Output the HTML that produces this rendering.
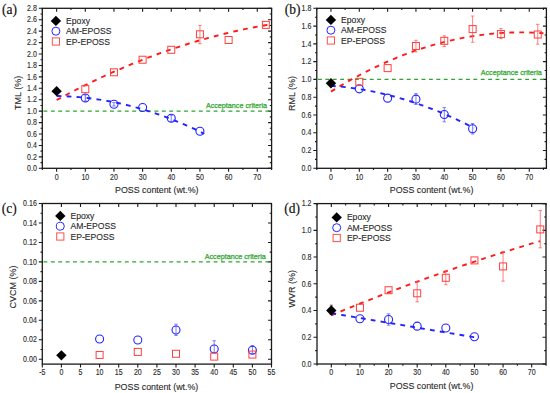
<!DOCTYPE html>
<html><head><meta charset="utf-8"><style>
html,body{margin:0;padding:0;background:#fff;}
body{width:550px;height:393px;overflow:hidden;}
svg{display:block;}
</style></head><body>
<svg width="550" height="393" viewBox="0 0 550 393" font-family='"Liberation Sans", sans-serif' fill="#2a2a2a">
<style>text{stroke:#2a2a2a;stroke-width:0.12px;}</style>
<rect width="550" height="393" fill="#fff"/>
<rect x="42.30" y="8.30" width="229.30" height="160.00" fill="none" stroke="#1a1a1a" stroke-width="1.3"/>
<path d="M56.63 168.30v3.5M56.63 8.30v3.5M85.29 168.30v3.5M85.29 8.30v3.5M113.96 168.30v3.5M113.96 8.30v3.5M142.62 168.30v3.5M142.62 8.30v3.5M171.28 168.30v3.5M171.28 8.30v3.5M199.94 168.30v3.5M199.94 8.30v3.5M228.61 168.30v3.5M228.61 8.30v3.5M257.27 168.30v3.5M257.27 8.30v3.5M42.30 168.30v1.8M42.30 8.30v1.8M70.96 168.30v1.8M70.96 8.30v1.8M99.62 168.30v1.8M99.62 8.30v1.8M128.29 168.30v1.8M128.29 8.30v1.8M156.95 168.30v1.8M156.95 8.30v1.8M185.61 168.30v1.8M185.61 8.30v1.8M214.28 168.30v1.8M214.28 8.30v1.8M242.94 168.30v1.8M242.94 8.30v1.8M271.60 168.30v1.8M271.60 8.30v1.8M42.30 168.30h-3.5M271.60 168.30h-3.5M42.30 156.87h-3.5M271.60 156.87h-3.5M42.30 145.44h-3.5M271.60 145.44h-3.5M42.30 134.01h-3.5M271.60 134.01h-3.5M42.30 122.59h-3.5M271.60 122.59h-3.5M42.30 111.16h-3.5M271.60 111.16h-3.5M42.30 99.73h-3.5M271.60 99.73h-3.5M42.30 88.30h-3.5M271.60 88.30h-3.5M42.30 76.87h-3.5M271.60 76.87h-3.5M42.30 65.44h-3.5M271.60 65.44h-3.5M42.30 54.01h-3.5M271.60 54.01h-3.5M42.30 42.59h-3.5M271.60 42.59h-3.5M42.30 31.16h-3.5M271.60 31.16h-3.5M42.30 19.73h-3.5M271.60 19.73h-3.5M42.30 8.30h-3.5M271.60 8.30h-3.5M42.30 162.59h-1.8M271.60 162.59h-1.8M42.30 151.16h-1.8M271.60 151.16h-1.8M42.30 139.73h-1.8M271.60 139.73h-1.8M42.30 128.30h-1.8M271.60 128.30h-1.8M42.30 116.87h-1.8M271.60 116.87h-1.8M42.30 105.44h-1.8M271.60 105.44h-1.8M42.30 94.01h-1.8M271.60 94.01h-1.8M42.30 82.59h-1.8M271.60 82.59h-1.8M42.30 71.16h-1.8M271.60 71.16h-1.8M42.30 59.73h-1.8M271.60 59.73h-1.8M42.30 48.30h-1.8M271.60 48.30h-1.8M42.30 36.87h-1.8M271.60 36.87h-1.8M42.30 25.44h-1.8M271.60 25.44h-1.8M42.30 14.01h-1.8M271.60 14.01h-1.8" stroke="#1a1a1a" stroke-width="1.1" fill="none"/>
<text transform="translate(56.63 179.60) scale(0.86 1)" text-anchor="middle" font-size="8.2">0</text>
<text transform="translate(85.29 179.60) scale(0.86 1)" text-anchor="middle" font-size="8.2">10</text>
<text transform="translate(113.96 179.60) scale(0.86 1)" text-anchor="middle" font-size="8.2">20</text>
<text transform="translate(142.62 179.60) scale(0.86 1)" text-anchor="middle" font-size="8.2">30</text>
<text transform="translate(171.28 179.60) scale(0.86 1)" text-anchor="middle" font-size="8.2">40</text>
<text transform="translate(199.94 179.60) scale(0.86 1)" text-anchor="middle" font-size="8.2">50</text>
<text transform="translate(228.61 179.60) scale(0.86 1)" text-anchor="middle" font-size="8.2">60</text>
<text transform="translate(257.27 179.60) scale(0.86 1)" text-anchor="middle" font-size="8.2">70</text>
<text transform="translate(36.80 171.00) scale(0.86 1)" text-anchor="end" font-size="8.2">0.0</text>
<text transform="translate(36.80 159.57) scale(0.86 1)" text-anchor="end" font-size="8.2">0.2</text>
<text transform="translate(36.80 148.14) scale(0.86 1)" text-anchor="end" font-size="8.2">0.4</text>
<text transform="translate(36.80 136.71) scale(0.86 1)" text-anchor="end" font-size="8.2">0.6</text>
<text transform="translate(36.80 125.29) scale(0.86 1)" text-anchor="end" font-size="8.2">0.8</text>
<text transform="translate(36.80 113.86) scale(0.86 1)" text-anchor="end" font-size="8.2">1.0</text>
<text transform="translate(36.80 102.43) scale(0.86 1)" text-anchor="end" font-size="8.2">1.2</text>
<text transform="translate(36.80 91.00) scale(0.86 1)" text-anchor="end" font-size="8.2">1.4</text>
<text transform="translate(36.80 79.57) scale(0.86 1)" text-anchor="end" font-size="8.2">1.6</text>
<text transform="translate(36.80 68.14) scale(0.86 1)" text-anchor="end" font-size="8.2">1.8</text>
<text transform="translate(36.80 56.71) scale(0.86 1)" text-anchor="end" font-size="8.2">2.0</text>
<text transform="translate(36.80 45.29) scale(0.86 1)" text-anchor="end" font-size="8.2">2.2</text>
<text transform="translate(36.80 33.86) scale(0.86 1)" text-anchor="end" font-size="8.2">2.4</text>
<text transform="translate(36.80 22.43) scale(0.86 1)" text-anchor="end" font-size="8.2">2.6</text>
<text transform="translate(36.80 11.00) scale(0.86 1)" text-anchor="end" font-size="8.2">2.8</text>
<path d="M43.45 111.16H271.60" stroke="#2ea52e" stroke-width="1.4" stroke-dasharray="3.9 3.5"/><text x="267.00" y="108.40" font-size="7.2" fill="#2ea52e" style="stroke:#2ea52e;stroke-width:0.25px" text-anchor="end">Acceptance criteria</text>
<path d="M56.63 100.00L60.23 98.06L63.82 96.13L67.42 94.23L71.01 92.36L74.61 90.50L78.20 88.67L81.80 86.86L85.39 85.08L88.99 83.32L92.58 81.58L96.18 79.86L99.77 78.17L103.37 76.50L106.96 74.86L110.56 73.24L114.15 71.64L117.75 70.06L121.34 68.51L124.94 66.98L128.53 65.47L132.13 63.98L135.72 62.52L139.32 61.09L142.91 59.67L146.51 58.28L150.10 56.91L153.70 55.56L157.29 54.24L160.89 52.94L164.48 51.67L168.07 50.41L171.67 49.18L175.26 47.98L178.86 46.79L182.45 45.63L186.05 44.49L189.64 43.38L193.24 42.29L196.83 41.22L200.43 40.18L204.02 39.15L207.62 38.15L211.21 37.18L214.81 36.23L218.40 35.30L222.00 34.39L225.59 33.51L229.19 32.65L232.78 31.81L236.38 30.99L239.97 30.20L243.57 29.43L247.16 28.69L250.76 27.97L254.35 27.27L257.95 26.59L261.54 25.94L265.14 25.31L268.73 24.70" stroke="#ff1a1a" stroke-width="1.9" fill="none" stroke-dasharray="4.8 5.2"/>
<path d="M56.63 96.02L59.13 96.06L61.64 96.13L64.14 96.22L66.64 96.32L69.14 96.45L71.64 96.60L74.14 96.77L76.65 96.96L79.15 97.16L81.65 97.39L84.15 97.64L86.65 97.92L89.16 98.21L91.66 98.52L94.16 98.85L96.66 99.20L99.16 99.58L101.67 99.97L104.17 100.38L106.67 100.82L109.17 101.27L111.67 101.75L114.17 102.25L116.68 102.76L119.18 103.30L121.68 103.86L124.18 104.44L126.68 105.04L129.19 105.66L131.69 106.29L134.19 106.96L136.69 107.64L139.19 108.34L141.70 109.06L144.20 109.80L146.70 110.56L149.20 111.35L151.70 112.15L154.21 112.97L156.71 113.82L159.21 114.68L161.71 115.57L164.21 116.48L166.71 117.40L169.22 118.35L171.72 119.32L174.22 120.31L176.72 121.31L179.22 122.34L181.73 123.39L184.23 124.46L186.73 125.55L189.23 126.67L191.73 127.80L194.24 128.95L196.74 130.12L199.24 131.32L201.74 132.53L204.24 133.76" stroke="#2323ff" stroke-width="1.9" fill="none" stroke-dasharray="4.8 5.2"/>
<path d="M199.94 25.44V43.73M198.24 25.44h3.4M198.24 43.73h3.4" stroke="#ff6060" stroke-width="0.8" fill="none"/>
<path d="M171.28 115.16V121.44M169.58 115.16h3.4M169.58 121.44h3.4" stroke="#6060ff" stroke-width="0.8" fill="none"/>
<path d="M85.29 94.87V101.16M83.59 94.87h3.4M83.59 101.16h3.4" stroke="#4040ff" stroke-width="0.8" fill="none"/>
<path d="M113.96 102.59V106.01M112.26 102.59h3.4M112.26 106.01h3.4" stroke="#6060ff" stroke-width="0.8" fill="none"/>
<path d="M56.63 85.96L61.83 91.16L56.63 96.36L51.43 91.16Z" fill="#000"/>
<circle cx="85.29" cy="98.01" r="4.0" fill="none" stroke="#2323ff" stroke-width="1.1"/>
<circle cx="113.96" cy="104.30" r="4.0" fill="none" stroke="#2323ff" stroke-width="1.1"/>
<circle cx="142.62" cy="107.50" r="4.0" fill="none" stroke="#2323ff" stroke-width="1.1"/>
<circle cx="171.28" cy="118.19" r="4.0" fill="none" stroke="#2323ff" stroke-width="1.1"/>
<circle cx="199.94" cy="131.27" r="4.0" fill="none" stroke="#2323ff" stroke-width="1.1"/>
<rect x="81.79" y="85.66" width="7.0" height="7.0" fill="none" stroke="#ff4040" stroke-width="1"/>
<rect x="110.46" y="68.80" width="7.0" height="7.0" fill="none" stroke="#ff4040" stroke-width="1"/>
<rect x="139.12" y="56.23" width="7.0" height="7.0" fill="none" stroke="#ff4040" stroke-width="1"/>
<rect x="167.78" y="46.29" width="7.0" height="7.0" fill="none" stroke="#ff4040" stroke-width="1"/>
<rect x="196.44" y="30.80" width="7.0" height="7.0" fill="none" stroke="#ff4040" stroke-width="1"/>
<rect x="225.11" y="36.51" width="7.0" height="7.0" fill="none" stroke="#ff4040" stroke-width="1"/>
<rect x="262.37" y="21.37" width="7.0" height="7.0" fill="none" stroke="#ff4040" stroke-width="1"/>
<path d="M55.90 15.70L61.10 20.90L55.90 26.10L50.70 20.90Z" fill="#000"/><circle cx="55.90" cy="31.20" r="4.0" fill="none" stroke="#2323ff" stroke-width="1"/><rect x="52.30" y="37.90" width="7.2" height="7.2" fill="none" stroke="#ff5050" stroke-width="1"/><text x="66.10" y="23.90" font-size="8.6">Epoxy</text><text x="66.10" y="34.20" font-size="8.6">AM-EPOSS</text><text x="66.10" y="44.50" font-size="8.6">EP-EPOSS</text>
<text transform="translate(20.60 92.90) rotate(-90)" text-anchor="middle" font-size="9.0">TML (%)</text>
<text x="156.80" y="193.40" text-anchor="middle" font-size="8.85">POSS content (wt.%)</text>
<text transform="translate(2.00 14.00) scale(0.93 1)" font-family='"Liberation Serif", serif' font-size="14.5" style="stroke:#111;stroke-width:0.18px" fill="#111">(a)</text>
<rect x="316.80" y="8.30" width="229.60" height="160.00" fill="none" stroke="#1a1a1a" stroke-width="1.3"/>
<path d="M330.96 168.30v3.5M330.96 8.30v3.5M359.29 168.30v3.5M359.29 8.30v3.5M387.62 168.30v3.5M387.62 8.30v3.5M415.95 168.30v3.5M415.95 8.30v3.5M444.28 168.30v3.5M444.28 8.30v3.5M472.61 168.30v3.5M472.61 8.30v3.5M500.93 168.30v3.5M500.93 8.30v3.5M529.26 168.30v3.5M529.26 8.30v3.5M316.80 168.30v1.8M316.80 8.30v1.8M345.13 168.30v1.8M345.13 8.30v1.8M373.46 168.30v1.8M373.46 8.30v1.8M401.78 168.30v1.8M401.78 8.30v1.8M430.11 168.30v1.8M430.11 8.30v1.8M458.44 168.30v1.8M458.44 8.30v1.8M486.77 168.30v1.8M486.77 8.30v1.8M515.10 168.30v1.8M515.10 8.30v1.8M543.43 168.30v1.8M543.43 8.30v1.8M316.80 168.30h-3.5M546.40 168.30h-3.5M316.80 150.52h-3.5M546.40 150.52h-3.5M316.80 132.74h-3.5M546.40 132.74h-3.5M316.80 114.97h-3.5M546.40 114.97h-3.5M316.80 97.19h-3.5M546.40 97.19h-3.5M316.80 79.41h-3.5M546.40 79.41h-3.5M316.80 61.63h-3.5M546.40 61.63h-3.5M316.80 43.86h-3.5M546.40 43.86h-3.5M316.80 26.08h-3.5M546.40 26.08h-3.5M316.80 8.30h-3.5M546.40 8.30h-3.5M316.80 159.41h-1.8M546.40 159.41h-1.8M316.80 141.63h-1.8M546.40 141.63h-1.8M316.80 123.86h-1.8M546.40 123.86h-1.8M316.80 106.08h-1.8M546.40 106.08h-1.8M316.80 88.30h-1.8M546.40 88.30h-1.8M316.80 70.52h-1.8M546.40 70.52h-1.8M316.80 52.74h-1.8M546.40 52.74h-1.8M316.80 34.97h-1.8M546.40 34.97h-1.8M316.80 17.19h-1.8M546.40 17.19h-1.8" stroke="#1a1a1a" stroke-width="1.1" fill="none"/>
<text transform="translate(330.96 179.60) scale(0.86 1)" text-anchor="middle" font-size="8.2">0</text>
<text transform="translate(359.29 179.60) scale(0.86 1)" text-anchor="middle" font-size="8.2">10</text>
<text transform="translate(387.62 179.60) scale(0.86 1)" text-anchor="middle" font-size="8.2">20</text>
<text transform="translate(415.95 179.60) scale(0.86 1)" text-anchor="middle" font-size="8.2">30</text>
<text transform="translate(444.28 179.60) scale(0.86 1)" text-anchor="middle" font-size="8.2">40</text>
<text transform="translate(472.61 179.60) scale(0.86 1)" text-anchor="middle" font-size="8.2">50</text>
<text transform="translate(500.93 179.60) scale(0.86 1)" text-anchor="middle" font-size="8.2">60</text>
<text transform="translate(529.26 179.60) scale(0.86 1)" text-anchor="middle" font-size="8.2">70</text>
<text transform="translate(311.30 171.00) scale(0.86 1)" text-anchor="end" font-size="8.2">0.0</text>
<text transform="translate(311.30 153.22) scale(0.86 1)" text-anchor="end" font-size="8.2">0.2</text>
<text transform="translate(311.30 135.44) scale(0.86 1)" text-anchor="end" font-size="8.2">0.4</text>
<text transform="translate(311.30 117.67) scale(0.86 1)" text-anchor="end" font-size="8.2">0.6</text>
<text transform="translate(311.30 99.89) scale(0.86 1)" text-anchor="end" font-size="8.2">0.8</text>
<text transform="translate(311.30 82.11) scale(0.86 1)" text-anchor="end" font-size="8.2">1.0</text>
<text transform="translate(311.30 64.33) scale(0.86 1)" text-anchor="end" font-size="8.2">1.2</text>
<text transform="translate(311.30 46.56) scale(0.86 1)" text-anchor="end" font-size="8.2">1.4</text>
<text transform="translate(311.30 28.78) scale(0.86 1)" text-anchor="end" font-size="8.2">1.6</text>
<text transform="translate(311.30 11.00) scale(0.86 1)" text-anchor="end" font-size="8.2">1.8</text>
<path d="M317.95 79.41H546.40" stroke="#2ea52e" stroke-width="1.4" stroke-dasharray="3.9 3.5"/><text x="541.80" y="75.40" font-size="7.2" fill="#2ea52e" style="stroke:#2ea52e;stroke-width:0.25px" text-anchor="end">Acceptance criteria</text>
<path d="M330.96 91.60L334.57 89.38L338.17 87.20L341.77 85.06L345.37 82.97L348.97 80.91L352.57 78.90L356.17 76.93L359.77 75.01L363.37 73.12L366.97 71.28L370.58 69.49L374.18 67.73L377.78 66.02L381.38 64.35L384.98 62.72L388.58 61.13L392.18 59.59L395.78 58.09L399.38 56.63L402.98 55.22L406.59 53.84L410.19 52.51L413.79 51.22L417.39 49.98L420.99 48.78L424.59 47.62L428.19 46.50L431.79 45.42L435.39 44.39L439.00 43.40L442.60 42.45L446.20 41.55L449.80 40.68L453.40 39.86L457.00 39.09L460.60 38.35L464.20 37.66L467.80 37.01L471.40 36.40L475.01 35.84L478.61 35.31L482.21 34.83L485.81 34.40L489.41 34.00L493.01 33.65L496.61 33.34L500.21 33.07L503.81 32.85L507.42 32.66L511.02 32.52L514.62 32.43L518.22 32.37L521.82 32.36L525.42 32.39L529.02 32.46L532.62 32.58L536.22 32.74L539.82 32.94L543.43 33.18" stroke="#ff1a1a" stroke-width="1.9" fill="none" stroke-dasharray="4.8 5.2"/>
<path d="M330.96 85.80L333.39 85.99L335.81 86.19L338.24 86.40L340.66 86.64L343.09 86.90L345.51 87.17L347.94 87.46L350.36 87.77L352.79 88.10L355.21 88.45L357.64 88.81L360.06 89.20L362.49 89.60L364.91 90.02L367.33 90.46L369.76 90.92L372.18 91.39L374.61 91.89L377.03 92.40L379.46 92.93L381.88 93.48L384.31 94.05L386.73 94.64L389.16 95.24L391.58 95.87L394.01 96.51L396.43 97.17L398.86 97.85L401.28 98.54L403.71 99.26L406.13 99.99L408.55 100.74L410.98 101.52L413.40 102.30L415.83 103.11L418.25 103.94L420.68 104.78L423.10 105.64L425.53 106.52L427.95 107.42L430.38 108.34L432.80 109.28L435.23 110.23L437.65 111.21L440.08 112.20L442.50 113.21L444.93 114.24L447.35 115.28L449.77 116.35L452.20 117.43L454.62 118.53L457.05 119.65L459.47 120.79L461.90 121.95L464.32 123.12L466.75 124.32L469.17 125.53L471.60 126.76L474.02 128.01" stroke="#2323ff" stroke-width="1.9" fill="none" stroke-dasharray="4.8 5.2"/>
<path d="M415.95 40.30V51.86M414.25 40.30h3.4M414.25 51.86h3.4" stroke="#ff6060" stroke-width="0.8" fill="none"/>
<path d="M444.28 35.86V46.52M442.58 35.86h3.4M442.58 46.52h3.4" stroke="#ff6060" stroke-width="0.8" fill="none"/>
<path d="M472.61 16.03V42.26M470.91 16.03h3.4M470.91 42.26h3.4" stroke="#ff6060" stroke-width="0.8" fill="none"/>
<path d="M500.93 28.48V38.61M499.23 28.48h3.4M499.23 38.61h3.4" stroke="#ff6060" stroke-width="0.8" fill="none"/>
<path d="M537.76 24.30V44.12M536.06 24.30h3.4M536.06 44.12h3.4" stroke="#ff6060" stroke-width="0.8" fill="none"/>
<path d="M415.95 93.63V104.48M414.25 93.63h3.4M414.25 104.48h3.4" stroke="#6060ff" stroke-width="0.8" fill="none"/>
<path d="M444.28 107.59V121.81M442.58 107.59h3.4M442.58 121.81h3.4" stroke="#6060ff" stroke-width="0.8" fill="none"/>
<path d="M472.61 123.59V133.99M470.91 123.59h3.4M470.91 133.99h3.4" stroke="#6060ff" stroke-width="0.8" fill="none"/>
<path d="M330.96 78.12L336.16 83.32L330.96 88.52L325.76 83.32Z" fill="#000"/>
<circle cx="359.29" cy="88.83" r="4.0" fill="none" stroke="#2323ff" stroke-width="1.1"/>
<circle cx="387.62" cy="98.17" r="4.0" fill="none" stroke="#2323ff" stroke-width="1.1"/>
<circle cx="415.95" cy="99.14" r="4.0" fill="none" stroke="#2323ff" stroke-width="1.1"/>
<circle cx="444.28" cy="114.52" r="4.0" fill="none" stroke="#2323ff" stroke-width="1.1"/>
<circle cx="472.61" cy="128.74" r="4.0" fill="none" stroke="#2323ff" stroke-width="1.1"/>
<rect x="355.79" y="78.31" width="7.0" height="7.0" fill="none" stroke="#ff4040" stroke-width="1"/>
<rect x="384.12" y="64.62" width="7.0" height="7.0" fill="none" stroke="#ff4040" stroke-width="1"/>
<rect x="412.45" y="42.49" width="7.0" height="7.0" fill="none" stroke="#ff4040" stroke-width="1"/>
<rect x="440.78" y="37.33" width="7.0" height="7.0" fill="none" stroke="#ff4040" stroke-width="1"/>
<rect x="469.11" y="25.60" width="7.0" height="7.0" fill="none" stroke="#ff4040" stroke-width="1"/>
<rect x="497.43" y="30.58" width="7.0" height="7.0" fill="none" stroke="#ff4040" stroke-width="1"/>
<rect x="534.26" y="31.02" width="7.0" height="7.0" fill="none" stroke="#ff4040" stroke-width="1"/>
<path d="M330.90 14.70L336.10 19.90L330.90 25.10L325.70 19.90Z" fill="#000"/><circle cx="330.90" cy="30.20" r="4.0" fill="none" stroke="#2323ff" stroke-width="1"/><rect x="327.30" y="36.90" width="7.2" height="7.2" fill="none" stroke="#ff5050" stroke-width="1"/><text x="341.10" y="22.90" font-size="8.6">Epoxy</text><text x="341.10" y="33.20" font-size="8.6">AM-EPOSS</text><text x="341.10" y="43.50" font-size="8.6">EP-EPOSS</text>
<text transform="translate(295.00 93.50) rotate(-90)" text-anchor="middle" font-size="9.0">RML (%)</text>
<text x="431.60" y="193.40" text-anchor="middle" font-size="8.85">POSS content (wt.%)</text>
<text transform="translate(284.70 14.30) scale(0.93 1)" font-family='"Liberation Serif", serif' font-size="14.5" style="stroke:#111;stroke-width:0.18px" fill="#111">(b)</text>
<rect x="42.30" y="203.50" width="229.20" height="160.60" fill="none" stroke="#1a1a1a" stroke-width="1.3"/>
<path d="M42.30 364.10v3.5M42.30 203.50v3.5M61.40 364.10v3.5M61.40 203.50v3.5M80.50 364.10v3.5M80.50 203.50v3.5M99.60 364.10v3.5M99.60 203.50v3.5M118.70 364.10v3.5M118.70 203.50v3.5M137.80 364.10v3.5M137.80 203.50v3.5M156.90 364.10v3.5M156.90 203.50v3.5M176.00 364.10v3.5M176.00 203.50v3.5M195.10 364.10v3.5M195.10 203.50v3.5M214.20 364.10v3.5M214.20 203.50v3.5M233.30 364.10v3.5M233.30 203.50v3.5M252.40 364.10v3.5M252.40 203.50v3.5M271.50 364.10v3.5M271.50 203.50v3.5M42.30 359.23h-3.5M271.50 359.23h-3.5M42.30 339.77h-3.5M271.50 339.77h-3.5M42.30 320.30h-3.5M271.50 320.30h-3.5M42.30 300.83h-3.5M271.50 300.83h-3.5M42.30 281.37h-3.5M271.50 281.37h-3.5M42.30 261.90h-3.5M271.50 261.90h-3.5M42.30 242.43h-3.5M271.50 242.43h-3.5M42.30 222.97h-3.5M271.50 222.97h-3.5M42.30 203.50h-3.5M271.50 203.50h-3.5M42.30 349.50h-1.8M271.50 349.50h-1.8M42.30 330.03h-1.8M271.50 330.03h-1.8M42.30 310.57h-1.8M271.50 310.57h-1.8M42.30 291.10h-1.8M271.50 291.10h-1.8M42.30 271.63h-1.8M271.50 271.63h-1.8M42.30 252.17h-1.8M271.50 252.17h-1.8M42.30 232.70h-1.8M271.50 232.70h-1.8M42.30 213.23h-1.8M271.50 213.23h-1.8" stroke="#1a1a1a" stroke-width="1.1" fill="none"/>
<text transform="translate(42.30 375.40) scale(0.86 1)" text-anchor="middle" font-size="8.2">-5</text>
<text transform="translate(61.40 375.40) scale(0.86 1)" text-anchor="middle" font-size="8.2">0</text>
<text transform="translate(80.50 375.40) scale(0.86 1)" text-anchor="middle" font-size="8.2">5</text>
<text transform="translate(99.60 375.40) scale(0.86 1)" text-anchor="middle" font-size="8.2">10</text>
<text transform="translate(118.70 375.40) scale(0.86 1)" text-anchor="middle" font-size="8.2">15</text>
<text transform="translate(137.80 375.40) scale(0.86 1)" text-anchor="middle" font-size="8.2">20</text>
<text transform="translate(156.90 375.40) scale(0.86 1)" text-anchor="middle" font-size="8.2">25</text>
<text transform="translate(176.00 375.40) scale(0.86 1)" text-anchor="middle" font-size="8.2">30</text>
<text transform="translate(195.10 375.40) scale(0.86 1)" text-anchor="middle" font-size="8.2">35</text>
<text transform="translate(214.20 375.40) scale(0.86 1)" text-anchor="middle" font-size="8.2">40</text>
<text transform="translate(233.30 375.40) scale(0.86 1)" text-anchor="middle" font-size="8.2">45</text>
<text transform="translate(252.40 375.40) scale(0.86 1)" text-anchor="middle" font-size="8.2">50</text>
<text transform="translate(271.50 375.40) scale(0.86 1)" text-anchor="middle" font-size="8.2">55</text>
<text transform="translate(36.80 361.93) scale(0.86 1)" text-anchor="end" font-size="8.2">0.00</text>
<text transform="translate(36.80 342.47) scale(0.86 1)" text-anchor="end" font-size="8.2">0.02</text>
<text transform="translate(36.80 323.00) scale(0.86 1)" text-anchor="end" font-size="8.2">0.04</text>
<text transform="translate(36.80 303.53) scale(0.86 1)" text-anchor="end" font-size="8.2">0.06</text>
<text transform="translate(36.80 284.07) scale(0.86 1)" text-anchor="end" font-size="8.2">0.08</text>
<text transform="translate(36.80 264.60) scale(0.86 1)" text-anchor="end" font-size="8.2">0.10</text>
<text transform="translate(36.80 245.13) scale(0.86 1)" text-anchor="end" font-size="8.2">0.12</text>
<text transform="translate(36.80 225.67) scale(0.86 1)" text-anchor="end" font-size="8.2">0.14</text>
<text transform="translate(36.80 206.20) scale(0.86 1)" text-anchor="end" font-size="8.2">0.16</text>
<path d="M43.45 261.90H271.50" stroke="#2ea52e" stroke-width="1.4" stroke-dasharray="3.9 3.5"/><text x="265.80" y="258.80" font-size="7.2" fill="#2ea52e" style="stroke:#2ea52e;stroke-width:0.25px" text-anchor="end">Acceptance criteria</text>
<path d="M176.00 324.19V335.48M174.30 324.19h3.4M174.30 335.48h3.4" stroke="#6060ff" stroke-width="0.8" fill="none"/>
<path d="M214.20 340.74V352.42M212.50 340.74h3.4M212.50 352.42h3.4" stroke="#6060ff" stroke-width="0.8" fill="none"/>
<path d="M252.40 345.61V353.39M250.70 345.61h3.4M250.70 353.39h3.4" stroke="#6060ff" stroke-width="0.8" fill="none"/>
<path d="M61.40 350.14L66.60 355.34L61.40 360.54L56.20 355.34Z" fill="#000"/>
<circle cx="99.60" cy="338.99" r="4.0" fill="none" stroke="#2323ff" stroke-width="1.1"/>
<circle cx="137.80" cy="339.96" r="4.0" fill="none" stroke="#2323ff" stroke-width="1.1"/>
<circle cx="176.00" cy="330.03" r="4.0" fill="none" stroke="#2323ff" stroke-width="1.1"/>
<circle cx="214.20" cy="349.01" r="4.0" fill="none" stroke="#2323ff" stroke-width="1.1"/>
<circle cx="252.40" cy="350.18" r="4.0" fill="none" stroke="#2323ff" stroke-width="1.1"/>
<rect x="96.10" y="351.45" width="7.0" height="7.0" fill="none" stroke="#ff4040" stroke-width="1"/>
<rect x="134.30" y="348.43" width="7.0" height="7.0" fill="none" stroke="#ff4040" stroke-width="1"/>
<rect x="172.50" y="350.28" width="7.0" height="7.0" fill="none" stroke="#ff4040" stroke-width="1"/>
<rect x="210.70" y="353.11" width="7.0" height="7.0" fill="none" stroke="#ff4040" stroke-width="1"/>
<rect x="248.90" y="351.06" width="7.0" height="7.0" fill="none" stroke="#ff4040" stroke-width="1"/>
<path d="M60.30 210.70L65.50 215.90L60.30 221.10L55.10 215.90Z" fill="#000"/><circle cx="60.30" cy="226.20" r="4.0" fill="none" stroke="#2323ff" stroke-width="1"/><rect x="56.70" y="232.90" width="7.2" height="7.2" fill="none" stroke="#ff5050" stroke-width="1"/><text x="70.50" y="218.90" font-size="8.6">Epoxy</text><text x="70.50" y="229.20" font-size="8.6">AM-EPOSS</text><text x="70.50" y="239.50" font-size="8.6">EP-EPOSS</text>
<text transform="translate(16.00 287.00) rotate(-90)" text-anchor="middle" font-size="9.0">CVCM (%)</text>
<text x="156.50" y="389.50" text-anchor="middle" font-size="8.85">POSS content (wt.%)</text>
<text transform="translate(1.70 212.80) scale(0.93 1)" font-family='"Liberation Serif", serif' font-size="14.5" style="stroke:#111;stroke-width:0.18px" fill="#111">(c)</text>
<rect x="317.00" y="203.60" width="229.00" height="160.40" fill="none" stroke="#1a1a1a" stroke-width="1.3"/>
<path d="M331.31 364.00v3.5M331.31 203.60v3.5M359.94 364.00v3.5M359.94 203.60v3.5M388.56 364.00v3.5M388.56 203.60v3.5M417.19 364.00v3.5M417.19 203.60v3.5M445.81 364.00v3.5M445.81 203.60v3.5M474.44 364.00v3.5M474.44 203.60v3.5M503.06 364.00v3.5M503.06 203.60v3.5M531.69 364.00v3.5M531.69 203.60v3.5M317.00 364.00v1.8M317.00 203.60v1.8M345.62 364.00v1.8M345.62 203.60v1.8M374.25 364.00v1.8M374.25 203.60v1.8M402.88 364.00v1.8M402.88 203.60v1.8M431.50 364.00v1.8M431.50 203.60v1.8M460.12 364.00v1.8M460.12 203.60v1.8M488.75 364.00v1.8M488.75 203.60v1.8M517.38 364.00v1.8M517.38 203.60v1.8M546.00 364.00v1.8M546.00 203.60v1.8M317.00 364.00h-3.5M546.00 364.00h-3.5M317.00 337.27h-3.5M546.00 337.27h-3.5M317.00 310.53h-3.5M546.00 310.53h-3.5M317.00 283.80h-3.5M546.00 283.80h-3.5M317.00 257.07h-3.5M546.00 257.07h-3.5M317.00 230.33h-3.5M546.00 230.33h-3.5M317.00 203.60h-3.5M546.00 203.60h-3.5M317.00 350.63h-1.8M546.00 350.63h-1.8M317.00 323.90h-1.8M546.00 323.90h-1.8M317.00 297.17h-1.8M546.00 297.17h-1.8M317.00 270.43h-1.8M546.00 270.43h-1.8M317.00 243.70h-1.8M546.00 243.70h-1.8M317.00 216.97h-1.8M546.00 216.97h-1.8" stroke="#1a1a1a" stroke-width="1.1" fill="none"/>
<text transform="translate(331.31 375.30) scale(0.86 1)" text-anchor="middle" font-size="8.2">0</text>
<text transform="translate(359.94 375.30) scale(0.86 1)" text-anchor="middle" font-size="8.2">10</text>
<text transform="translate(388.56 375.30) scale(0.86 1)" text-anchor="middle" font-size="8.2">20</text>
<text transform="translate(417.19 375.30) scale(0.86 1)" text-anchor="middle" font-size="8.2">30</text>
<text transform="translate(445.81 375.30) scale(0.86 1)" text-anchor="middle" font-size="8.2">40</text>
<text transform="translate(474.44 375.30) scale(0.86 1)" text-anchor="middle" font-size="8.2">50</text>
<text transform="translate(503.06 375.30) scale(0.86 1)" text-anchor="middle" font-size="8.2">60</text>
<text transform="translate(531.69 375.30) scale(0.86 1)" text-anchor="middle" font-size="8.2">70</text>
<text transform="translate(311.50 366.70) scale(0.86 1)" text-anchor="end" font-size="8.2">0.0</text>
<text transform="translate(311.50 339.97) scale(0.86 1)" text-anchor="end" font-size="8.2">0.2</text>
<text transform="translate(311.50 313.23) scale(0.86 1)" text-anchor="end" font-size="8.2">0.4</text>
<text transform="translate(311.50 286.50) scale(0.86 1)" text-anchor="end" font-size="8.2">0.6</text>
<text transform="translate(311.50 259.77) scale(0.86 1)" text-anchor="end" font-size="8.2">0.8</text>
<text transform="translate(311.50 233.03) scale(0.86 1)" text-anchor="end" font-size="8.2">1.0</text>
<text transform="translate(311.50 206.30) scale(0.86 1)" text-anchor="end" font-size="8.2">1.2</text>
<path d="M331.31 315.35L334.85 313.87L338.40 312.40L341.94 310.94L345.48 309.49L349.02 308.04L352.56 306.60L356.10 305.17L359.65 303.75L363.19 302.33L366.73 300.92L370.27 299.52L373.81 298.13L377.36 296.74L380.90 295.36L384.44 293.99L387.98 292.63L391.52 291.27L395.06 289.92L398.61 288.58L402.15 287.25L405.69 285.92L409.23 284.60L412.77 283.29L416.31 281.99L419.86 280.69L423.40 279.40L426.94 278.12L430.48 276.84L434.02 275.58L437.56 274.32L441.11 273.07L444.65 271.82L448.19 270.59L451.73 269.36L455.27 268.14L458.82 266.92L462.36 265.72L465.90 264.52L469.44 263.33L472.98 262.14L476.52 260.97L480.07 259.80L483.61 258.63L487.15 257.48L490.69 256.33L494.23 255.19L497.77 254.06L501.32 252.94L504.86 251.82L508.40 250.71L511.94 249.61L515.48 248.52L519.02 247.43L522.57 246.35L526.11 245.28L529.65 244.21L533.19 243.16L536.73 242.11L540.27 241.07" stroke="#ff1a1a" stroke-width="1.9" fill="none" stroke-dasharray="4.8 5.2"/>
<path d="M331.31 313.21L333.76 313.62L336.21 314.03L338.66 314.44L341.11 314.85L343.56 315.27L346.01 315.68L348.46 316.09L350.91 316.50L353.36 316.91L355.81 317.33L358.26 317.74L360.71 318.15L363.16 318.56L365.61 318.97L368.06 319.38L370.51 319.80L372.96 320.21L375.41 320.62L377.86 321.03L380.31 321.44L382.76 321.86L385.21 322.27L387.66 322.68L390.12 323.09L392.57 323.50L395.02 323.92L397.47 324.33L399.92 324.74L402.37 325.15L404.82 325.56L407.27 325.97L409.72 326.39L412.17 326.80L414.62 327.21L417.07 327.62L419.52 328.03L421.97 328.45L424.42 328.86L426.87 329.27L429.32 329.68L431.77 330.09L434.22 330.51L436.67 330.92L439.12 331.33L441.57 331.74L444.02 332.15L446.47 332.56L448.92 332.98L451.37 333.39L453.82 333.80L456.27 334.21L458.72 334.62L461.17 335.04L463.62 335.45L466.07 335.86L468.52 336.27L470.97 336.68L473.42 337.10L475.87 337.51" stroke="#2323ff" stroke-width="1.9" fill="none" stroke-dasharray="4.8 5.2"/>
<path d="M417.19 281.93V301.85M415.49 281.93h3.4M415.49 301.85h3.4" stroke="#ff6060" stroke-width="0.8" fill="none"/>
<path d="M445.81 270.43V284.74M444.11 270.43h3.4M444.11 284.74h3.4" stroke="#ff6060" stroke-width="0.8" fill="none"/>
<path d="M503.06 251.45V281.13M501.36 251.45h3.4M501.36 281.13h3.4" stroke="#ff6060" stroke-width="0.8" fill="none"/>
<path d="M540.27 210.55V247.84M538.57 210.55h3.4M538.57 247.84h3.4" stroke="#ff6060" stroke-width="0.8" fill="none"/>
<path d="M388.56 313.88V325.24M386.86 313.88h3.4M386.86 325.24h3.4" stroke="#6060ff" stroke-width="0.8" fill="none"/>
<path d="M331.31 305.19V314.54M329.61 305.19h3.4M329.61 314.54h3.4" stroke="#555" stroke-width="0.8" fill="none"/>
<path d="M331.31 305.33L336.51 310.53L331.31 315.73L326.11 310.53Z" fill="#000"/>
<circle cx="359.94" cy="318.69" r="4.0" fill="none" stroke="#2323ff" stroke-width="1.1"/>
<circle cx="388.56" cy="319.49" r="4.0" fill="none" stroke="#2323ff" stroke-width="1.1"/>
<circle cx="417.19" cy="326.17" r="4.0" fill="none" stroke="#2323ff" stroke-width="1.1"/>
<circle cx="445.81" cy="328.04" r="4.0" fill="none" stroke="#2323ff" stroke-width="1.1"/>
<circle cx="474.44" cy="336.73" r="4.0" fill="none" stroke="#2323ff" stroke-width="1.1"/>
<rect x="356.44" y="304.23" width="7.0" height="7.0" fill="none" stroke="#ff4040" stroke-width="1"/>
<rect x="385.06" y="286.72" width="7.0" height="7.0" fill="none" stroke="#ff4040" stroke-width="1"/>
<rect x="413.69" y="289.79" width="7.0" height="7.0" fill="none" stroke="#ff4040" stroke-width="1"/>
<rect x="442.31" y="274.28" width="7.0" height="7.0" fill="none" stroke="#ff4040" stroke-width="1"/>
<rect x="470.94" y="256.91" width="7.0" height="7.0" fill="none" stroke="#ff4040" stroke-width="1"/>
<rect x="499.56" y="262.92" width="7.0" height="7.0" fill="none" stroke="#ff4040" stroke-width="1"/>
<rect x="536.77" y="225.90" width="7.0" height="7.0" fill="none" stroke="#ff4040" stroke-width="1"/>
<path d="M336.70 212.20L341.90 217.40L336.70 222.60L331.50 217.40Z" fill="#000"/><circle cx="336.70" cy="227.70" r="4.0" fill="none" stroke="#2323ff" stroke-width="1"/><rect x="333.10" y="234.40" width="7.2" height="7.2" fill="none" stroke="#ff5050" stroke-width="1"/><text x="346.90" y="220.40" font-size="8.6">Epoxy</text><text x="346.90" y="230.70" font-size="8.6">AM-EPOSS</text><text x="346.90" y="241.00" font-size="8.6">EP-EPOSS</text>
<text transform="translate(295.00 288.80) rotate(-90)" text-anchor="middle" font-size="9.0">WVR (%)</text>
<text x="431.60" y="389.00" text-anchor="middle" font-size="8.85">POSS content (wt.%)</text>
<text transform="translate(284.30 212.80) scale(0.93 1)" font-family='"Liberation Serif", serif' font-size="14.5" style="stroke:#111;stroke-width:0.18px" fill="#111">(d)</text>
</svg>
</body></html>
